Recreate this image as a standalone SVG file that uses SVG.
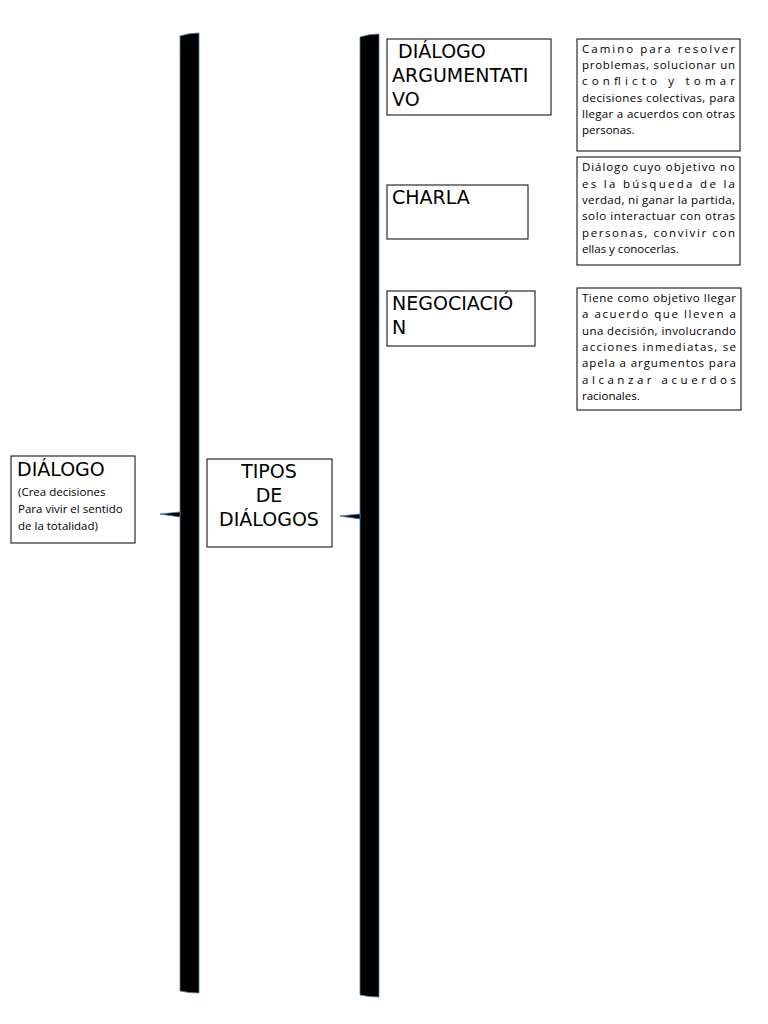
<svg xmlns="http://www.w3.org/2000/svg" width="768" height="1024" viewBox="0 0 768 1024">
<style>
.box{fill:#fff;stroke:#000;stroke-width:1}
.t{font-family:"DejaVu Sans",sans-serif;font-size:19px;fill:#000}
.s{font-family:"Open Sans","Liberation Sans",sans-serif;font-size:11.5px;fill:#000}
.bar{fill:#000;stroke:#4a7ab0;stroke-width:0.8}
</style>
<rect width="768" height="1024" fill="#fff"/>
<g id="connectors">
<path class="bar" d="M180,36 Q189,33 199,33 L199,993 Q189,993 180,991 Z"/>
<path class="bar" d="M160,514 L180,512 L180,517 Z"/>
<path class="bar" d="M360,37 Q369,34 379,34 L379,997 Q369,997 360,995 Z"/>
<path class="bar" d="M340,516 L360,514 L360,519 Z"/>
</g>
<g id="dialogo">
<rect class="box" x="11" y="456" width="124" height="87"/>
<text class="t" x="17" y="476">DIÁLOGO</text>
<text class="s" x="18" y="496">(Crea decisiones</text>
<text class="s" x="18" y="513">Para vivir el sentido</text>
<text class="s" x="18" y="530">de la totalidad)</text>
</g>
<g id="tipos">
<rect class="box" x="207" y="459" width="125" height="88"/>
<text class="t" text-anchor="middle" x="269" y="478">TIPOS</text>
<text class="t" text-anchor="middle" x="269" y="502">DE</text>
<text class="t" text-anchor="middle" x="269" y="526">DIÁLOGOS</text>
</g>
<g id="argumentativo">
<rect class="box" x="387" y="39" width="164" height="76"/>
<text class="t" x="398" y="58">DIÁLOGO</text>
<text class="t" x="392" y="82">ARGUMENTATI</text>
<text class="t" x="392" y="106">VO</text>
</g>
<g id="charla">
<rect class="box" x="387" y="185" width="141" height="54"/>
<text class="t" x="392" y="204">CHARLA</text>
</g>
<g id="negociacion">
<rect class="box" x="387" y="291" width="148" height="55"/>
<text class="t" x="392" y="310">NEGOCIACIÓ</text>
<text class="t" x="392" y="334">N</text>
</g>
<g id="desc1">
<rect class="box" x="577" y="39" width="163" height="112"/>
<text class="s" x="582" y="53" textLength="153" lengthAdjust="spacing" style="word-spacing:0">Camino     para     resolver</text>
<text class="s" x="582" y="69" textLength="153">problemas, solucionar un</text>
<text class="s" x="582" y="85" textLength="153">conflicto        y        tomar</text>
<text class="s" x="582" y="102" textLength="153">decisiones colectivas, para</text>
<text class="s" x="582" y="118" textLength="153">llegar a acuerdos con otras</text>
<text class="s" x="582" y="134">personas.</text>
</g>
<g id="desc2">
<rect class="box" x="577" y="157" width="163" height="108"/>
<text class="s" x="582" y="171" textLength="153">Diálogo cuyo objetivo no</text>
<text class="s" x="582" y="188" textLength="153">es  la  búsqueda  de  la</text>
<text class="s" x="582" y="204" textLength="153">verdad, ni ganar la partida,</text>
<text class="s" x="582" y="220" textLength="153">solo interactuar con otras</text>
<text class="s" x="582" y="237" textLength="153">personas,   convivir   con</text>
<text class="s" x="582" y="253">ellas y conocerlas.</text>
</g>
<g id="desc3">
<rect class="box" x="577" y="288" width="164" height="122"/>
<text class="s" x="582" y="302" textLength="154">Tiene como objetivo llegar</text>
<text class="s" x="582" y="318" textLength="154">a  acuerdo  que  lleven  a</text>
<text class="s" x="582" y="335" textLength="154">una decisión, involucrando</text>
<text class="s" x="582" y="351" textLength="154">acciones   inmediatas,   se</text>
<text class="s" x="582" y="367" textLength="154">apela a argumentos para</text>
<text class="s" x="582" y="384" textLength="154">alcanzar               acuerdos</text>
<text class="s" x="582" y="400">racionales.</text>
</g>
</svg>
